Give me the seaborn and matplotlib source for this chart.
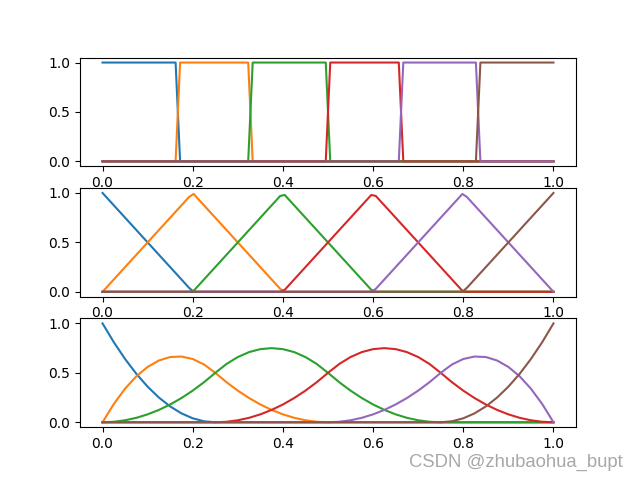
import pandas as pd
import matplotlib
matplotlib.use('Agg')
import matplotlib.pyplot as plt
import seaborn as sns

# Grau 0: funcoes degrau
x_grau0 = [0.0, 0.162, 0.172, 0.323, 0.333, 0.495, 0.505, 0.657, 0.667, 0.828, 0.838, 1.0]
grau0_b0 = [1, 1, 0, 0, 0, 0, 0, 0, 0, 0, 0, 0]
grau0_b1 = [0, 0, 1, 1, 0, 0, 0, 0, 0, 0, 0, 0]
grau0_b2 = [0, 0, 0, 0, 1, 1, 0, 0, 0, 0, 0, 0]
grau0_b3 = [0, 0, 0, 0, 0, 0, 1, 1, 0, 0, 0, 0]
grau0_b4 = [0, 0, 0, 0, 0, 0, 0, 0, 1, 1, 0, 0]
grau0_b5 = [0, 0, 0, 0, 0, 0, 0, 0, 0, 0, 1, 1]

# Grau 1: funcoes "chapeu"
x_grau1 = [0.0, 0.192, 0.202, 0.394, 0.404, 0.596, 0.606, 0.798, 0.808, 1.0]
grau1_b0 = [1.0, 0.04, 0.0, 0.0, 0.0, 0.0, 0.0, 0.0, 0.0, 0.0]
grau1_b1 = [0.0, 0.96, 0.99, 0.03, 0.0, 0.0, 0.0, 0.0, 0.0, 0.0]
grau1_b2 = [0.0, 0.0, 0.01, 0.97, 0.98, 0.02, 0.0, 0.0, 0.0, 0.0]
grau1_b3 = [0.0, 0.0, 0.0, 0.0, 0.02, 0.98, 0.97, 0.01, 0.0, 0.0]
grau1_b4 = [0.0, 0.0, 0.0, 0.0, 0.0, 0.0, 0.03, 0.99, 0.96, 0.0]
grau1_b5 = [0.0, 0.0, 0.0, 0.0, 0.0, 0.0, 0.0, 0.0, 0.04, 1.0]

# Grau 2: curvas suaves, lidas a cada 0.025 (x = 0, 0.025, ..., 1.0)
x_grau2 = [0.0, 0.025, 0.05, 0.075, 0.1, 0.125, 0.15, 0.175, 0.2, 0.225,
           0.25, 0.275, 0.3, 0.325, 0.35, 0.375, 0.4, 0.425, 0.45, 0.475,
           0.5, 0.525, 0.55, 0.575, 0.6, 0.625, 0.65, 0.675, 0.7, 0.725,
           0.75, 0.775, 0.8, 0.825, 0.85, 0.875, 0.9, 0.925, 0.95, 0.975, 1.0]
grau2_b0 = [1.0, 0.81, 0.64, 0.49, 0.36, 0.25, 0.16, 0.09, 0.04, 0.01,
            0, 0, 0, 0, 0, 0, 0, 0, 0, 0,
            0, 0, 0, 0, 0, 0, 0, 0, 0, 0,
            0, 0, 0, 0, 0, 0, 0, 0, 0, 0, 0]
grau2_b1 = [0.0, 0.185, 0.34, 0.465, 0.56, 0.625, 0.66, 0.665, 0.64, 0.585,
            0.5, 0.405, 0.32, 0.245, 0.18, 0.125, 0.08, 0.045, 0.02, 0.005,
            0, 0, 0, 0, 0, 0, 0, 0, 0, 0,
            0, 0, 0, 0, 0, 0, 0, 0, 0, 0, 0]
grau2_b2 = [0.0, 0.005, 0.02, 0.045, 0.08, 0.125, 0.18, 0.245, 0.32, 0.405,
            0.5, 0.59, 0.66, 0.71, 0.74, 0.75, 0.74, 0.71, 0.66, 0.59,
            0.5, 0.405, 0.32, 0.245, 0.18, 0.125, 0.08, 0.045, 0.02, 0.005,
            0, 0, 0, 0, 0, 0, 0, 0, 0, 0, 0]
grau2_b3 = [0, 0, 0, 0, 0, 0, 0, 0, 0, 0,
            0.0, 0.005, 0.02, 0.045, 0.08, 0.125, 0.18, 0.245, 0.32, 0.405,
            0.5, 0.59, 0.66, 0.71, 0.74, 0.75, 0.74, 0.71, 0.66, 0.59,
            0.5, 0.405, 0.32, 0.245, 0.18, 0.125, 0.08, 0.045, 0.02, 0.005, 0.0]
grau2_b4 = [0, 0, 0, 0, 0, 0, 0, 0, 0, 0,
            0, 0, 0, 0, 0, 0, 0, 0, 0, 0,
            0.0, 0.005, 0.02, 0.045, 0.08, 0.125, 0.18, 0.245, 0.32, 0.405,
            0.5, 0.585, 0.64, 0.665, 0.66, 0.625, 0.56, 0.465, 0.34, 0.185, 0.0]
grau2_b5 = [0, 0, 0, 0, 0, 0, 0, 0, 0, 0,
            0, 0, 0, 0, 0, 0, 0, 0, 0, 0,
            0, 0, 0, 0, 0, 0, 0, 0, 0, 0,
            0.0, 0.01, 0.04, 0.09, 0.16, 0.25, 0.36, 0.49, 0.64, 0.81, 1.0]


def montar_df(x, curvas):
    partes = []
    for i, y in enumerate(curvas):
        partes.append(pd.DataFrame({'x': x, 'y': y, 'base': i}))
    return pd.concat(partes, ignore_index=True)


paineis = [
    montar_df(x_grau0, [grau0_b0, grau0_b1, grau0_b2, grau0_b3, grau0_b4, grau0_b5]),
    montar_df(x_grau1, [grau1_b0, grau1_b1, grau1_b2, grau1_b3, grau1_b4, grau1_b5]),
    montar_df(x_grau2, [grau2_b0, grau2_b1, grau2_b2, grau2_b3, grau2_b4, grau2_b5]),
]

cores = sns.color_palette('tab10', 6)

fig, axes = plt.subplots(3, 1, figsize=(6.4, 4.8), dpi=100)
for ax, df in zip(axes, paineis):
    for i in range(6):
        sub = df[df['base'] == i]
        sns.lineplot(data=sub, x='x', y='y', color=cores[i], ax=ax,
                     estimator=None, sort=False, legend=False, linewidth=1.5)
    ax.set_xlabel('')
    ax.set_ylabel('')
    ax.set_xticks([0.0, 0.2, 0.4, 0.6, 0.8, 1.0])
    ax.set_yticks([0.0, 0.5, 1.0])

# marca d'agua do original
fig.text(0.973, 0.027, 'CSDN @zhubaohua_bupt', ha='right', va='baseline',
         fontsize=13.3, color='#a8a8a8', family='Liberation Sans')

fig.savefig('out.png', dpi=100)
